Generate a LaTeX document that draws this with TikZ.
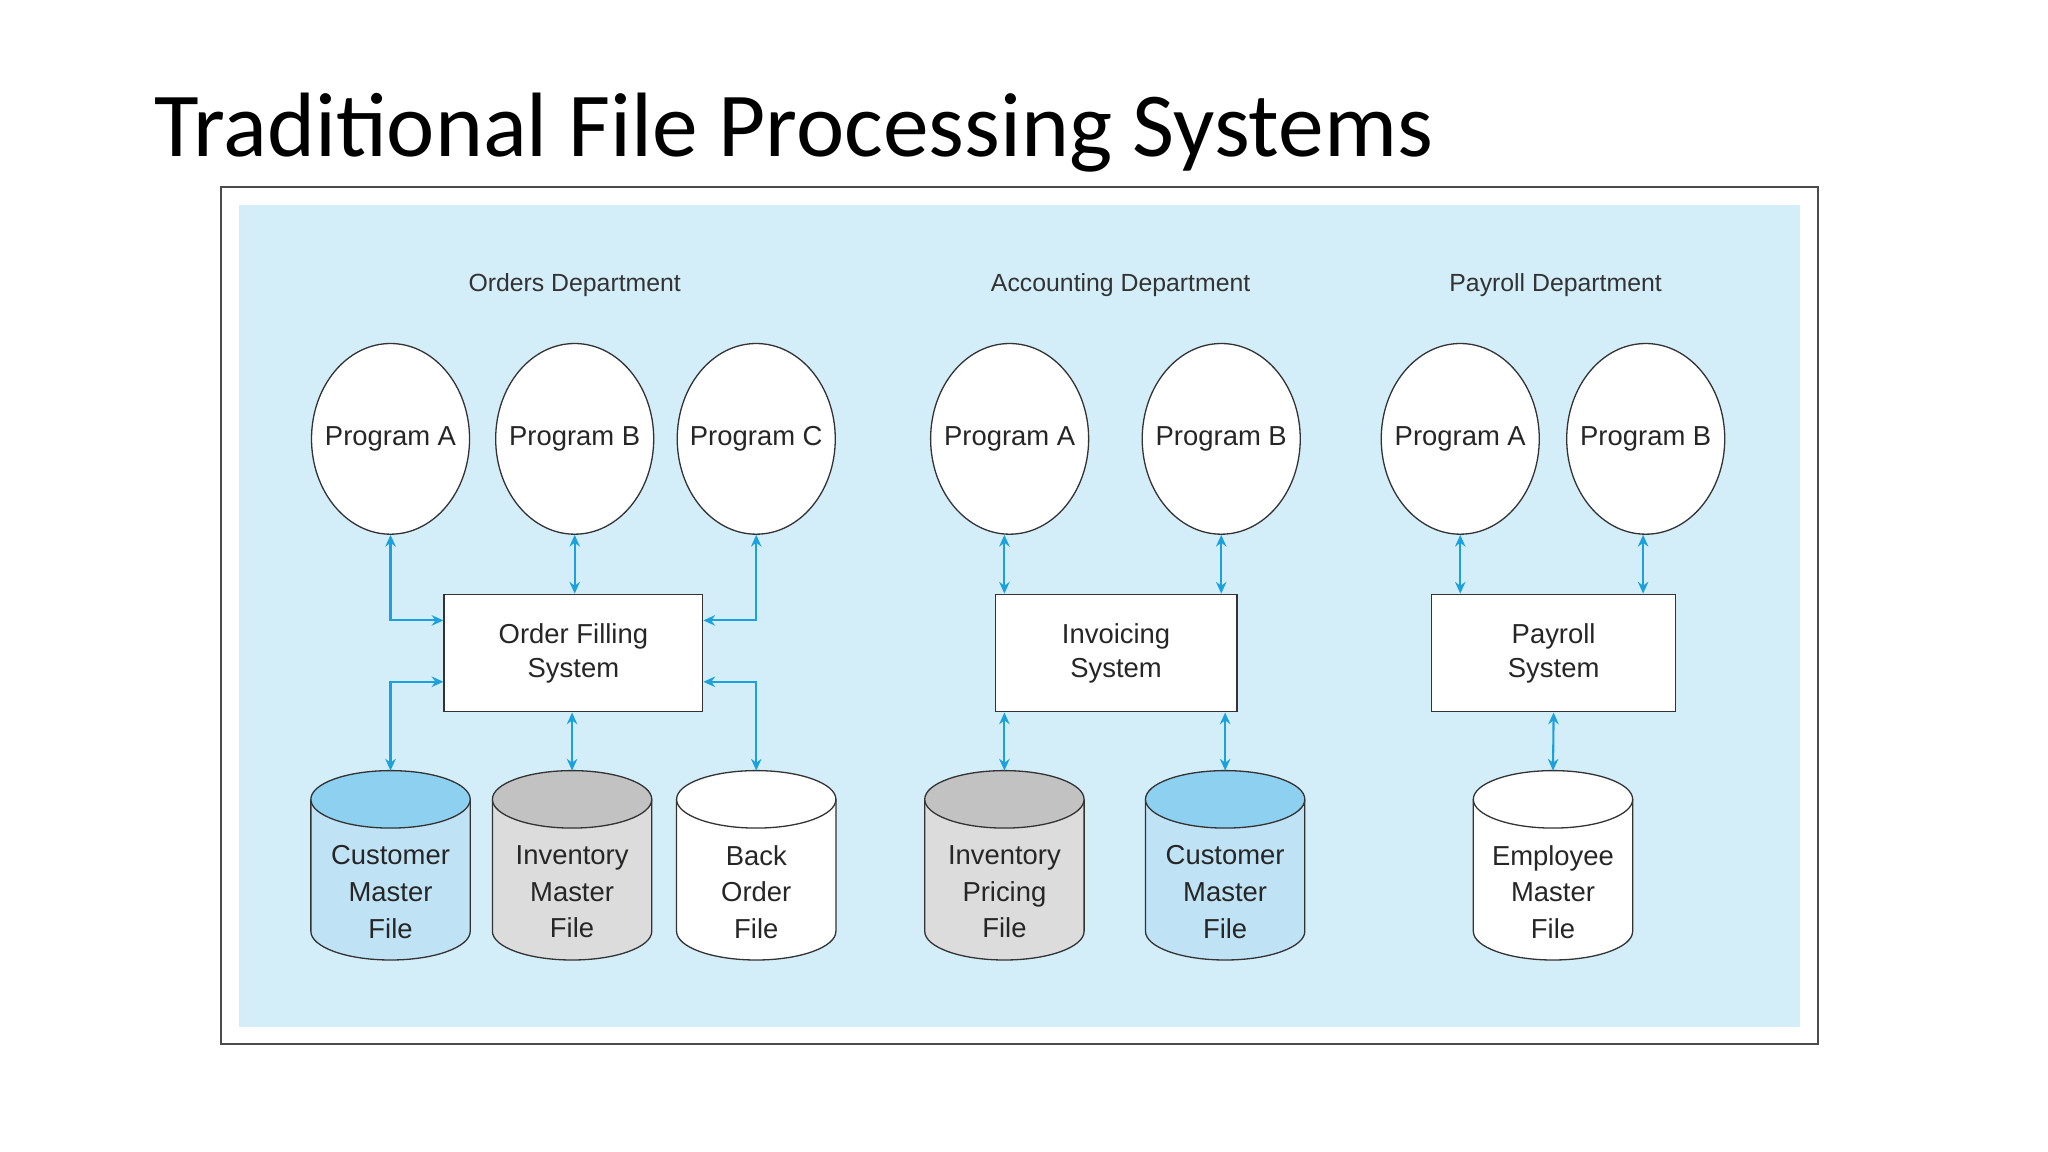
\documentclass[tikz,border=0pt]{standalone}
\usepackage{fontspec}
\setmainfont{Liberation Sans}
\newfontfamily\titlefont{Carlito}
\usetikzlibrary{shapes.geometric,arrows.meta}
\definecolor{bg}{HTML}{D4EEF9}
\definecolor{arr}{HTML}{1BA1DC}
\definecolor{cblue}{HTML}{BFE3F5}
\definecolor{cbluetop}{HTML}{8ED0EF}
\definecolor{cgray}{HTML}{DCDCDC}
\definecolor{cgraytop}{HTML}{C2C2C2}
\begin{document}
\begin{tikzpicture}[x=1pt,y=-1pt,
 prog/.style={ellipse,draw=black!80,line width=1pt,fill=white,minimum width=121pt,minimum height=146pt,inner sep=0pt,label={[font=\fontsize{21}{25}\selectfont,text=black!85]center:#1}},
 sys/.style={draw=black!80,line width=1pt,fill=white,minimum width=198pt,minimum height=90pt,align=center,font=\fontsize{21}{26}\selectfont,text=black!85},
 dept/.style={font=\fontsize{19}{22}\selectfont,text=black!80},
 lbl/.style={align=center,font=\fontsize{21}{28}\selectfont,text=black!85},
 ar/.style={arr,line width=1.6pt,{Stealth[length=9pt,width=8pt]}-{Stealth[length=9pt,width=8pt]}}]
\useasboundingbox (0,0) rectangle (1568,882);
\fill[white] (0,0) rectangle (1568,882);
\node[anchor=base west,font=\titlefont\fontsize{70}{72}\selectfont,inner sep=0] (title) at (118,120) {Traditional File Processing Systems};
\draw[black!70,line width=1.5pt,fill=white] (169,143) rectangle (1392,799);
\fill[bg] (183,157) rectangle (1378,786);
\node[dept] (d1) at (440,218) {Orders Department};
\node[dept] (d2) at (858,218) {Accounting Department};
\node[dept] (d3) at (1191,218) {Payroll Department};
\node[prog=Program A] (oa) at (299,336) {};
\node[prog=Program B] (ob) at (440,336) {};
\node[prog=Program C] (oc) at (579,336) {};
\node[prog=Program A] (aa) at (773,336) {};
\node[prog=Program B] (ab) at (935,336) {};
\node[prog=Program A] (pa) at (1118,336) {};
\node[prog=Program B] (pb) at (1260,336) {};
\node[sys] (ofs) at (439,500) {Order Filling\\System};
\node[sys,minimum width=185pt] (inv) at (854.5,500) {Invoicing\\System};
\node[sys,minimum width=187pt] (pay) at (1189.5,500) {Payroll\\System};
% cylinders
\newcommand{\cyl}[5]{%
 \fill[#3] (#1-61,612) -- (#1-61,713) arc[start angle=180,end angle=0,x radius=61,y radius=22] -- (#1+61,612) -- cycle;
 \draw[black!80,line width=1pt] (#1-61,612) -- (#1-61,713) arc[start angle=180,end angle=0,x radius=61,y radius=22] -- (#1+61,612);
 \draw[black!80,line width=1pt,fill=#4] (#1,612) ellipse[x radius=61,y radius=22];
 \coordinate (#2) at (#1,590);
 \node[lbl] (#2t) at (#1,683) {#5};}
\cyl{299}{c1}{cblue}{cbluetop}{Customer\\Master\\File}
\cyl{438}{c2}{cgray}{cgraytop}{Inventory\\Master\\File}
\cyl{579}{c3}{white}{white}{Back\\Order\\File}
\cyl{769}{c4}{cgray}{cgraytop}{Inventory\\Pricing\\File}
\cyl{938}{c5}{cblue}{cbluetop}{Customer\\Master\\File}
\cyl{1189}{c6}{white}{white}{Employee\\Master\\File}
% arrows
\draw[ar] (oa.south) |- ([yshift=25pt]ofs.west);
\draw[ar] (ob.south) -- (ofs.north-|ob.south);
\draw[ar] (oc.south) |- ([yshift=25pt]ofs.east);
\draw[ar] ([yshift=-22pt]ofs.west) -| (c1);
\draw[ar] (ofs.south-|c2) -- (c2);
\draw[ar] ([yshift=-22pt]ofs.east) -| (c3);
\draw[ar] ([xshift=-4pt]aa.south) -- (inv.north-|c4);
\draw[ar] (ab.south) -- (inv.north-|ab.south);
\draw[ar] (inv.south-|c4) -- (c4);
\draw[ar] (inv.south-|c5) -- (c5);
\draw[ar] (pa.south) -- (pay.north-|pa.south);
\draw[ar] ([xshift=-2pt]pb.south) -- (pay.north-|1258,0);
\draw[ar] (pay.south) -- (c6);
\end{tikzpicture}
\end{document}
